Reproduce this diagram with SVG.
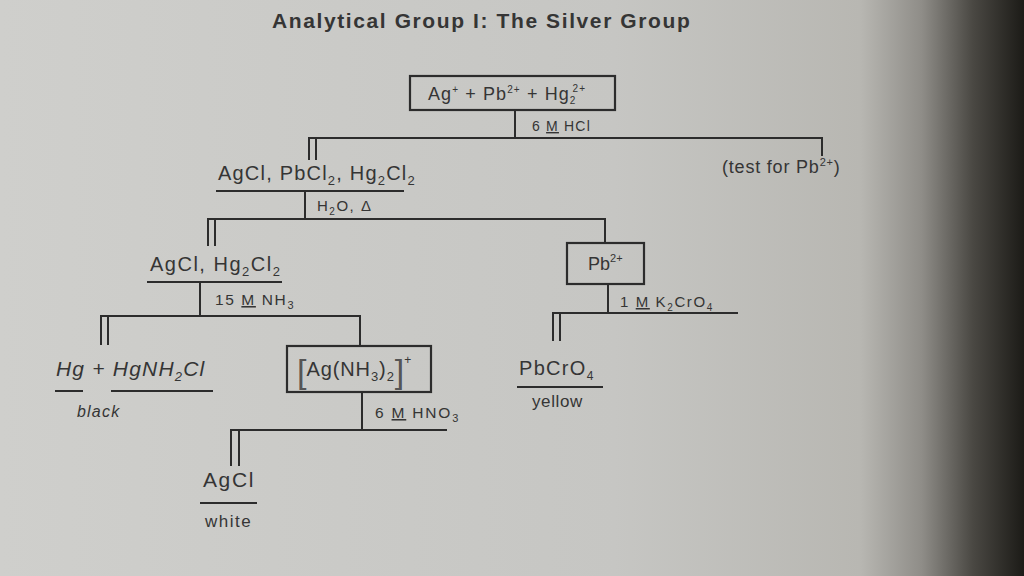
<svg xmlns="http://www.w3.org/2000/svg" width="1024" height="576" viewBox="0 0 1024 576">
<defs>
<linearGradient id="bg" x1="0" y1="0" x2="1" y2="0">
<stop offset="0" stop-color="#cfcfcc"/>
<stop offset="0.6" stop-color="#c6c6c3"/>
<stop offset="0.84" stop-color="#b8b7b2"/>
<stop offset="0.9" stop-color="#8f8d88"/>
<stop offset="0.95" stop-color="#4a4843"/>
<stop offset="1" stop-color="#1c1b17"/>
</linearGradient>
<style>
.t{font-family:"Liberation Sans",Arial,sans-serif;fill:#353535}
.ln{stroke:#2c2c2c;stroke-width:2;fill:none}
.box{stroke:#2c2c2c;stroke-width:2.2;fill:none}
.u{text-decoration:underline}
</style>
</defs>
<rect width="1024" height="576" fill="url(#bg)"/>
<text class="t" x="272" y="28" font-size="21" font-weight="bold" letter-spacing="1.6">Analytical Group I:  The Silver Group</text>

<g id="connectors">
<line class="ln" x1="515" y1="110" x2="515" y2="138"/>
<path class="ln" d="M309 160 V138 H822 V156"/>
<line class="ln" x1="316" y1="139" x2="316" y2="160"/>
<line class="ln" x1="216" y1="191" x2="404" y2="191"/>
<line class="ln" x1="305" y1="191" x2="305" y2="219"/>
<path class="ln" d="M208 246 V219 H605 V243"/>
<line class="ln" x1="215" y1="220" x2="215" y2="246"/>
<line class="ln" x1="147" y1="282" x2="282" y2="282"/>
<line class="ln" x1="200" y1="282" x2="200" y2="316"/>
<path class="ln" d="M101 345 V316 H360 V346"/>
<line class="ln" x1="108" y1="317" x2="108" y2="345"/>
<line class="ln" x1="608" y1="284" x2="608" y2="313"/>
<path class="ln" d="M553 341 V313 H738"/>
<line class="ln" x1="560" y1="314" x2="560" y2="341"/>
<line class="ln" x1="362" y1="392" x2="362" y2="430"/>
<path class="ln" d="M231 466 V430 H447"/>
<line class="ln" x1="239" y1="431" x2="239" y2="466"/>
<line class="ln" x1="55" y1="391" x2="83" y2="391"/>
<line class="ln" x1="111" y1="391" x2="213" y2="391"/>
<line class="ln" x1="517" y1="387" x2="603" y2="387"/>
<line class="ln" x1="200" y1="503" x2="257" y2="503"/>
</g>

<g id="n-start">
<rect class="box" x="410" y="76" width="205" height="34"/>
<text class="t" x="428" y="100" font-size="18" letter-spacing="1.1">Ag<tspan font-size="10" dy="-7">+</tspan><tspan dy="7"> + Pb</tspan><tspan font-size="10" dy="-7">2+</tspan><tspan dy="7"> + Hg</tspan><tspan font-size="10" dy="4">2</tspan><tspan font-size="10" dx="-4" dy="-12">2+</tspan></text>
</g>
<g id="l-hcl"><text class="t" x="532" y="131" font-size="14" letter-spacing="1.2"><tspan>6 </tspan><tspan class="u">M</tspan><tspan> HCl</tspan></text></g>
<g id="n-test"><text class="t" x="722" y="173" font-size="18" letter-spacing="0.8">(test for Pb<tspan font-size="11" dy="-7">2+</tspan><tspan dy="7">)</tspan></text></g>
<g id="n-chlorides"><text class="t" x="218" y="180" font-size="20" letter-spacing="1.2">AgCl, PbCl<tspan font-size="13" dy="5">2</tspan><tspan dy="-5">, Hg</tspan><tspan font-size="13" dy="5">2</tspan><tspan dy="-5">Cl</tspan><tspan font-size="13" dy="5">2</tspan></text></g>
<g id="l-h2o"><text class="t" x="317" y="211" font-size="15" letter-spacing="1.5">H<tspan font-size="10" dy="4">2</tspan><tspan dy="-4">O, Δ</tspan></text></g>
<g id="n-pb"><rect class="box" x="567" y="243" width="77" height="41"/><text class="t" x="588" y="270" font-size="18">Pb<tspan font-size="11" dy="-8">2+</tspan></text></g>
<g id="n-aghg"><text class="t" x="150" y="271" font-size="20" letter-spacing="1.5">AgCl, Hg<tspan font-size="13" dy="5">2</tspan><tspan dy="-5">Cl</tspan><tspan font-size="13" dy="5">2</tspan></text></g>
<g id="l-nh3"><text class="t" x="215" y="305" font-size="15.5" letter-spacing="1.6"><tspan>15 </tspan><tspan class="u">M</tspan><tspan> NH</tspan><tspan font-size="11" dy="4">3</tspan></text></g>
<g id="l-k2cro4"><text class="t" x="620" y="307" font-size="15" letter-spacing="1.6"><tspan>1 </tspan><tspan class="u">M</tspan><tspan> K</tspan><tspan font-size="10" dy="4">2</tspan><tspan dy="-4">CrO</tspan><tspan font-size="10" dy="4">4</tspan></text></g>
<g id="n-hg"><text class="t" x="56" y="376" font-size="21" font-style="italic" letter-spacing="1.2">Hg + HgNH<tspan font-size="13" dy="5">2</tspan><tspan dy="-5">Cl</tspan></text><text class="t" x="77" y="417" font-size="16" font-style="italic" letter-spacing="1.2">black</text></g>
<g id="n-agnh3"><rect class="box" x="287" y="346" width="144" height="46"/><text class="t" x="297" y="383" font-size="20" letter-spacing="0.9"><tspan font-size="34" fill="#555" letter-spacing="0">[</tspan><tspan dy="-7">Ag(NH</tspan><tspan font-size="13" dy="5">3</tspan><tspan dy="-5">)</tspan><tspan font-size="13" dy="5">2</tspan><tspan font-size="34" fill="#555" dy="2" letter-spacing="0">]</tspan><tspan font-size="12" dy="-19">+</tspan></text></g>
<g id="l-hno3"><text class="t" x="375" y="418" font-size="15.5" letter-spacing="1.8"><tspan>6 </tspan><tspan class="u">M</tspan><tspan> HNO</tspan><tspan font-size="11" dy="4">3</tspan></text></g>
<g id="n-pbcro4"><text class="t" x="519" y="375" font-size="20" letter-spacing="1.3">PbCrO<tspan font-size="12" dy="5">4</tspan></text><text class="t" x="532" y="407" font-size="17" letter-spacing="0.6">yellow</text></g>
<g id="n-agcl"><text class="t" x="203" y="487" font-size="21" letter-spacing="1.6">AgCl</text><text class="t" x="205" y="527" font-size="17" letter-spacing="1.5">white</text></g>
</svg>
